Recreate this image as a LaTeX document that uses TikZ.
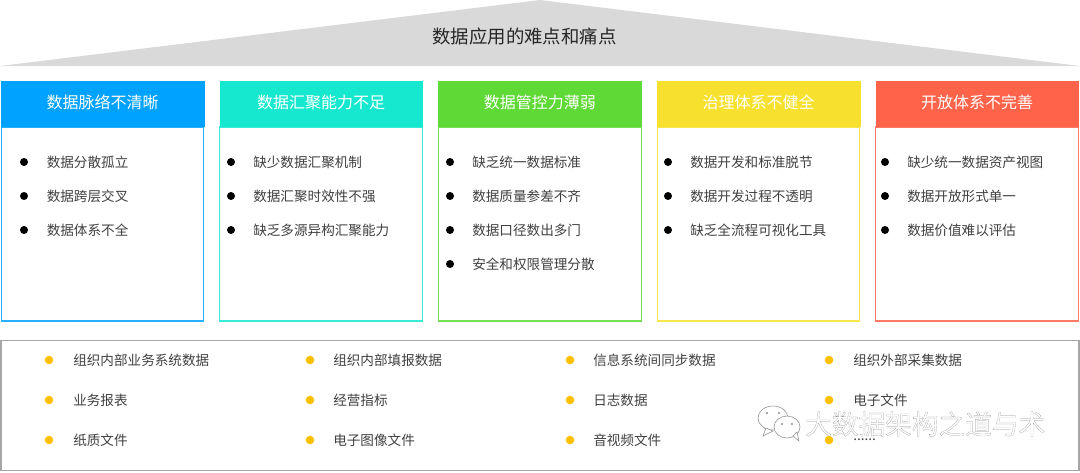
\documentclass[tikz,border=0pt]{standalone}
\usepackage{fontspec}
\setmainfont{Noto Sans CJK SC}
\newfontfamily\markfont[FakeBold=0.5]{Noto Sans CJK SC}
\usetikzlibrary{positioning}
\definecolor{roofgray}{HTML}{D9D9D9}
\definecolor{textgray}{HTML}{404040}
\definecolor{dotyellow}{HTML}{FFC000}
\definecolor{framegray}{HTML}{A6A6A6}
\definecolor{markgray}{HTML}{8C8C8C}
\definecolor{colblue}{HTML}{00A2FF}
\definecolor{colteal}{HTML}{16E8D0}
\definecolor{colgreen}{HTML}{5FD935}
\definecolor{colyellow}{HTML}{F8E02E}
\definecolor{colred}{HTML}{FF6349}
\newcommand{\moredots}{......}
\tikzset
{
    headbox/.style = {rectangle, fill=#1, draw=#1, line width=0.5pt, text=white, align=center, font=\fontsize{12}{14}\selectfont, minimum width=152pt, minimum height=34pt, inner sep=0pt, text height=9pt, text depth=2pt},
    bodybox/.style = {rectangle, fill=white, draw=#1!85!white, line width=0.8pt, minimum width=152pt, minimum height=145.5pt, inner sep=0pt},
    itemtext/.style = {anchor=west, inner sep=0pt, text=textgray, font=\fontsize{10.2}{12}\selectfont},
    blackdot/.style = {circle, fill=black, minimum size=6pt, inner sep=0pt},
    yellowdot/.style = {circle, fill=dotyellow, minimum size=6.4pt, inner sep=0pt}
}

\begin{document}
\begin{tikzpicture}[x=0.75pt, y=-0.75pt]
    \useasboundingbox (0,0) rectangle (1080,472);
    % roof
    \fill [roofgray] (0,66) -- (540,0) -- (1080,66) -- cycle;
    \node [text=black!85, font=\fontsize{13.8}{16}\selectfont] (title) at (524.5,36) {数据应用的难点和痛点};
    % five columns
    \node [bodybox=colblue] (bodyA) at (102.5,224) {};
    \node [bodybox=colteal, right=11.2pt of bodyA] (bodyB) {};
    \node [bodybox=colgreen, right=11.2pt of bodyB] (bodyC) {};
    \node [bodybox=colyellow, right=11.2pt of bodyC] (bodyD) {};
    \node [bodybox=colred, right=11.2pt of bodyD] (bodyE) {};
    \node [headbox=colblue, above=-0.5pt of bodyA] (headA) {数据脉络不清晰};
    \node [headbox=colteal, above=-0.5pt of bodyB] (headB) {数据汇聚能力不足};
    \node [headbox=colgreen, above=-0.5pt of bodyC] (headC) {数据管控力薄弱};
    \node [headbox=colyellow, above=-0.5pt of bodyD] (headD) {治理体系不健全};
    \node [headbox=colred, above=-0.5pt of bodyE] (headE) {开放体系不完善};
    % column items
    \foreach \ypos/\itemname/\txt in {162/a/数据分散孤立, 196/b/数据跨层交叉, 230/c/数据体系不全}
    {
        \node [blackdot] (dotA\itemname) at (24,\ypos) {};
        \node [itemtext] (itemA\itemname) at (46.5,\ypos) {\txt};
    }
    \foreach \ypos/\itemname/\txt in {162/a/缺少数据汇聚机制, 196/b/数据汇聚时效性不强, 230/c/缺乏多源异构汇聚能力}
    {
        \node [blackdot] (dotB\itemname) at (231,\ypos) {};
        \node [itemtext] (itemB\itemname) at (253,\ypos) {\txt};
    }
    \foreach \ypos/\itemname/\txt in {162/a/缺乏统一数据标准, 196/b/数据质量参差不齐, 230/c/数据口径数出多门, 264/d/安全和权限管理分散}
    {
        \node [blackdot] (dotC\itemname) at (450,\ypos) {};
        \node [itemtext] (itemC\itemname) at (472,\ypos) {\txt};
    }
    \foreach \ypos/\itemname/\txt in {162/a/数据开发和标准脱节, 196/b/数据开发过程不透明, 230/c/缺乏全流程可视化工具}
    {
        \node [blackdot] (dotD\itemname) at (668,\ypos) {};
        \node [itemtext] (itemD\itemname) at (690,\ypos) {\txt};
    }
    \foreach \ypos/\itemname/\txt in {162/a/缺少统一数据资产视图, 196/b/数据开放形式单一, 230/c/数据价值难以评估}
    {
        \node [blackdot] (dotE\itemname) at (885,\ypos) {};
        \node [itemtext] (itemE\itemname) at (907,\ypos) {\txt};
    }
    % bottom frame
    \node [draw=framegray, line width=0.8pt, minimum width=808.5pt, minimum height=98pt, inner sep=0pt] (frame) at (540,405.5) {};
    \foreach \dotx/\txtx/\ypos/\itemname/\txt in {
        49/73/360/a/组织内部业务系统数据, 310/333/360/b/组织内部填报数据, 570/593/360/c/信息系统间同步数据, 829/853/360/d/组织外部采集数据,
        49/73/400/e/业务报表, 310/333/400/f/经营指标, 570/593/400/g/日志数据, 829/853/400/h/电子文件,
        49/73/440/i/纸质文件, 310/333/440/j/电子图像文件, 570/593/440/k/音视频文件, 829/853/440/l/\moredots}
    {
        \node [yellowdot] (dotF\itemname) at (\dotx,\ypos) {};
        \node [itemtext] (itemF\itemname) at (\txtx,\ypos) {\txt};
    }
    % watermark
    \draw [markgray, fill=white, line width=0.4pt] (773,418) ellipse (15 and 12);
    \draw [markgray, fill=white, line width=0.4pt] (766,428) -- (763,436) -- (773,431) -- cycle;
    \draw [markgray, fill=white, line width=0.4pt] (787,427) ellipse (13 and 11);
    \draw [markgray, fill=white, line width=0.4pt] (793,436) -- (799,441) -- (797,432) -- cycle;
    \fill [markgray] (767,413) circle (1.2) (779,413) circle (1.2) (782,424) circle (1.2) (792,424) circle (1.2);
    \node [anchor=west, inner sep=0pt, font=\markfont\fontsize{20}{24}\selectfont] (mark) at (805,424) {\color{white}\special{pdf:code 0.55 0.55 0.55 RG}大数据架构之道与术};
\end{tikzpicture}
\end{document}
